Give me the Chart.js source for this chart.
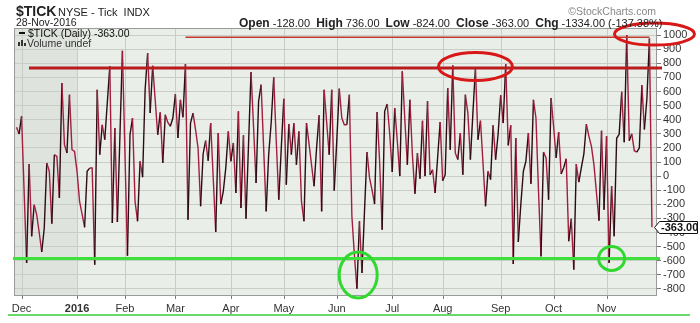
<!DOCTYPE html>
<html>
<head>
<meta charset="utf-8">
<script src="https://cdn.jsdelivr.net/npm/chart.js@4.4.1/dist/chart.umd.min.js"></script>
<style>
  html, body { margin: 0; padding: 0; background: #fff; }
</style>
</head>
<body>
<canvas id="tick-chart" width="700" height="323"></canvas>
<script>
// $TICK (NYSE) daily closes
const lateNov2015 = [346, 298];
const dec2015 = [424, -100, -616, 86, -427, -203, -273, -400, -538, -368, 93, 34, -337, 152, 140, -155, 660, 223, 164, 577, 187, 175];
const jan2016 = [34, -179, -270, -363, 34, 57, 57, -628, 612, 152, 364, 258, 520, 780, -332, 341, -325, 280, 889];
const feb2016 = [160, -564, 293, 412, -179, -320, 105, -8, 612, 872, 447, 782, 540, 293, 452, 93, 435, 380, 353, 412];
const mar2016 = [582, 270, 541, 417, 794, -309, 376, 447, 330, 199, -214, 157, 251, 109, 376, -10, -396, 305, -198, -108, 60, 317];
const apr2016 = [105, 235, -120, 459, -226, 289, -302, 220, 738, 350, -49, 530, 648, 200, -250, 152, 380, 700, 250, -167, 200];
const may2016 = [549, -61, 370, 152, 376, 81, 317, -179, -320, 376, 230, 80, -72, 200, 431, -250, 612, 380, 152, 612, -103];
const jun2016 = [250, 620, 412, 364, 364, 577, -285, -560, -798, -320, -687, -250, 171, -13, -100, -198, 454, 100, -380, 459, 511, 300];
const jul2016 = [29, 482, 250, 0, 743, 400, 81, 541, 150, -125, 164, -19, 393, 0, 530, 10, 45, -120, 130, 383];
const aug2016 = [-33, 10, 624, 187, 785, 164, 117, 305, 10, 577, 447, 117, 450, 766, 258, 393, 90, -214, 34, -25, 360, 117, 300];
const sep2016 = [573, 376, 794, 218, 360, -623, 270, -467, -200, 34, 105, 305, -55, 541, 412, -100, -569, 171, 129, -167, 553];
const oct2016 = [350, 129, 312, 15, 60, 123, -462, -302, -663, 86, -42, 60, 157, 369, 282, 211, 80, -120, -316, 322, -238];
const nov2016 = [282, -616, -72, -427, 268, 296, 598, 240, 1000, 250, 300, 180, 170, 200, 645, 330, 550, 975, -363];

const monthNames = ['Dec', '2016', 'Feb', 'Mar', 'Apr', 'May', 'Jun', 'Jul', 'Aug', 'Sep', 'Oct', 'Nov'];
const yTicks = [-800, -700, -600, -500, -400, -300, -200, -100, 0, 100, 200, 300, 400, 500, 600, 700, 800, 900, 1000];

// hand drawn marks on the picture (levels in $TICK units)
const resistance = 766;
const topLine = 984;
const support = -585;
const lastClose = -363;

const months = [dec2015, jan2016, feb2016, mar2016, apr2016, may2016, jun2016, jul2016, aug2016, sep2016, oct2016, nov2016];

let labels = [''];
let values = [null];
lateNov2015.forEach(v => { labels.push(''); values.push(v); });
months.forEach((m, i) => {
    m.forEach((v, j) => {
        labels.push(j === 0 ? monthNames[i] : '');
        values.push(v);
    });
});
labels.push('', '');
values.push(null, null);

const upColor = '#2a0c14';
const downColor = '#a31d3d';
const gridColor = '#c8cec6';
const sans = "'Liberation Sans', Arial, sans-serif";
const narrow = "'Liberation Sans Narrow', 'Liberation Sans', Arial, sans-serif";

function ellipse(ctx, x, y, rx, ry, color) {
    ctx.save();
    ctx.strokeStyle = color;
    ctx.lineWidth = 3;
    ctx.beginPath();
    ctx.ellipse(x, y, rx, ry, 0, 0, Math.PI * 2);
    ctx.stroke();
    ctx.restore();
}

function hline(ctx, x1, x2, y, color, w) {
    ctx.save();
    ctx.strokeStyle = color;
    ctx.lineWidth = w;
    ctx.beginPath();
    ctx.moveTo(x1, y);
    ctx.lineTo(x2, y);
    ctx.stroke();
    ctx.restore();
}

const decorations = {
    id: 'decorations',
    beforeDraw(chart) {
        const { ctx, chartArea: a, scales } = chart;
        ctx.save();
        ctx.fillStyle = '#ffffff';
        ctx.fillRect(0, 0, chart.width, chart.height);
        ctx.fillStyle = '#eaeee9';
        ctx.fillRect(a.left, a.top, a.right - a.left, a.bottom - a.top);
        // 2015 part shaded darker
        const janX = scales.x.getPixelForValue(labels.indexOf('2016'));
        ctx.fillStyle = '#dfe3de';
        ctx.fillRect(a.left, a.top, janX - a.left, a.bottom - a.top);
        ctx.restore();
    },
    beforeDatasetsDraw(chart) {
        // month grid lines and ticks
        const { ctx, chartArea: a, scales } = chart;
        ctx.save();
        ctx.lineWidth = 1;
        labels.forEach((l, i) => {
            if (!l) return;
            const px = Math.round(scales.x.getPixelForValue(i)) + 0.5;
            ctx.strokeStyle = gridColor;
            ctx.beginPath();
            ctx.moveTo(px, a.top);
            ctx.lineTo(px, a.bottom);
            ctx.stroke();
            ctx.strokeStyle = '#777';
            ctx.beginPath();
            ctx.moveTo(px, a.bottom);
            ctx.lineTo(px, a.bottom + 3);
            ctx.stroke();
        });
        ctx.restore();
    },
    afterDatasetsDraw(chart) {
        const { ctx, chartArea: a, scales } = chart;
        const x = scales.x, y = scales.y;
        ctx.save();
        ctx.strokeStyle = '#9a9a9a';
        ctx.lineWidth = 1;
        ctx.strokeRect(a.left + 0.5, a.top + 0.5, a.right - a.left - 1, a.bottom - a.top - 1);
        ctx.restore();

        hline(ctx, a.left + 15, a.right + 5, y.getPixelForValue(resistance), '#b81c1c', 3);
        hline(ctx, x.getPixelForValue(68), x.getPixelForValue(252), y.getPixelForValue(topLine), '#c0392b', 1.5);
        hline(ctx, a.left - 1, a.right + 3, y.getPixelForValue(support), '#3ee03e', 3);

        ellipse(ctx, x.getPixelForValue(183), y.getPixelForValue(777), 37, 14, '#d81818');
        ellipse(ctx, x.getPixelForValue(254), y.getPixelForValue(1007), 40, 11, '#d81818');
        ellipse(ctx, x.getPixelForValue(136.5), y.getPixelForValue(-701), 19, 23, '#30d830');
        ellipse(ctx, x.getPixelForValue(237), y.getPixelForValue(-584), 13, 12, '#30d830');
    },
    afterDraw(chart) {
        const { ctx, scales } = chart;
        ctx.save();
        ctx.textBaseline = 'alphabetic';

        // title
        ctx.fillStyle = '#222';
        ctx.font = 'bold 14px ' + sans;
        ctx.fillText('$TICK', 16, 16);
        ctx.font = '11px ' + sans;
        ctx.fillText('NYSE - Tick  INDX', 58, 16);
        ctx.font = '10.5px ' + sans;
        ctx.fillText('28-Nov-2016', 16, 26);

        // copyright
        ctx.fillStyle = '#888';
        ctx.textAlign = 'right';
        ctx.font = '10.5px ' + sans;
        ctx.fillText('\u00a9StockCharts.com', 656, 15);
        ctx.textAlign = 'left';

        // OHLC line
        const parts = [
            ['Open', true], [' -128.00  ', false],
            ['High', true], [' 736.00  ', false],
            ['Low', true], [' -824.00  ', false],
            ['Close', true], [' -363.00  ', false],
            ['Chg', true], [' -1334.00 (-137.38%)', false]
        ];
        let px = 239;
        ctx.fillStyle = '#222';
        parts.forEach(([t, b]) => {
            ctx.font = b ? 'bold 12px ' + sans : '11px ' + sans;
            ctx.fillText(t, px, 27);
            px += ctx.measureText(t).width;
        });

        // legend in the plot
        ctx.fillStyle = '#111';
        ctx.fillRect(19, 32, 6, 2);
        ctx.font = '10.5px ' + sans;
        ctx.fillText('$TICK (Daily) -363.00', 28, 37);
        ctx.fillStyle = '#333';
        ctx.fillRect(18, 42, 2, 4);
        ctx.fillRect(21, 40, 2, 6);
        ctx.fillRect(24, 43, 2, 3);
        ctx.fillText('Volume undef', 27, 47);

        // last value flag on the right axis
        const fy = Math.round(scales.y.getPixelForValue(lastClose));
        ctx.fillStyle = '#fff';
        ctx.strokeStyle = '#111';
        ctx.lineWidth = 1;
        ctx.beginPath();
        ctx.moveTo(654.5, fy + 0.5);
        ctx.lineTo(659.5, fy - 5.5);
        ctx.lineTo(697.5, fy - 5.5);
        ctx.lineTo(697.5, fy + 6.5);
        ctx.lineTo(659.5, fy + 6.5);
        ctx.closePath();
        ctx.fill();
        ctx.stroke();
        ctx.fillStyle = '#111';
        ctx.font = 'bold 11px ' + narrow;
        ctx.textBaseline = 'middle';
        ctx.fillText('-363.00', 661, fy + 1);

        // green rule under the chart
        hline(ctx, 8, 690, 315, '#6bd86b', 2);
        ctx.restore();
    }
};

new Chart(document.getElementById('tick-chart'), {
    type: 'line',
    data: {
        labels: labels,
        datasets: [{
            label: '$TICK (Daily)',
            data: values,
            borderWidth: 1.4,
            pointRadius: 0,
            tension: 0,
            borderColor: downColor,
            segment: {
                borderColor: c => c.p1.parsed.y > c.p0.parsed.y ? upColor : downColor
            }
        }]
    },
    plugins: [decorations],
    options: {
        responsive: false,
        animation: false,
        layout: { padding: { left: 14, top: 28, right: 0, bottom: 0 } },
        plugins: { legend: { display: false }, tooltip: { enabled: false } },
        scales: {
            x: {
                type: 'category',
                offset: false,
                border: { display: false },
                grid: { display: false },
                ticks: {
                    autoSkip: false,
                    maxRotation: 0,
                    padding: -2,
                    color: '#333',
                    font: c => ({
                        family: narrow,
                        size: 11,
                        weight: c.tick && c.tick.label === '2016' ? 'bold' : 'normal'
                    }),
                    callback: function (v) {
                        const l = this.getLabelForValue(v);
                        return l === '' ? null : l;
                    }
                },
                afterFit: s => { s.height = 27; }
            },
            y: {
                position: 'right',
                min: -850,
                max: 1050,
                afterBuildTicks: s => { s.ticks = yTicks.map(v => ({ value: v })); },
                border: { display: false },
                grid: { color: gridColor, tickColor: '#777', tickLength: 4 },
                ticks: {
                    autoSkip: false,
                    padding: 2,
                    color: '#333',
                    font: { family: narrow, size: 11 },
                    callback: v => String(v)
                },
                afterFit: s => { s.width = 43; }
            }
        }
    }
});
</script>
</body>
</html>
